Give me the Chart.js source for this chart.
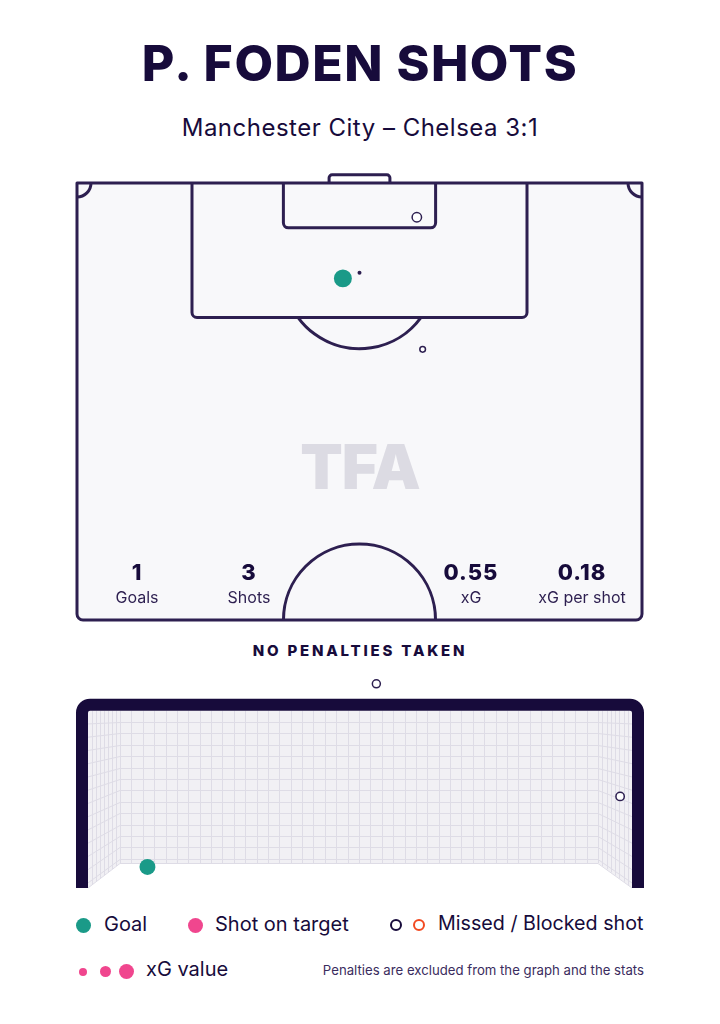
<!DOCTYPE html>
<html>
<head>
<meta charset="utf-8">
<script src="https://cdn.jsdelivr.net/npm/chart.js@4.4.1/dist/chart.umd.min.js"></script>
<style>
  html, body { margin: 0; padding: 0; background: #ffffff; }
  body { width: 720px; height: 1024px; position: relative; overflow: hidden; font-family: Inter, "Noto Sans", sans-serif; color: #170b3b; }
  canvas { position: absolute; }
  .lbl { position: absolute; white-space: nowrap; line-height: 1; }
  .dot { position: absolute; border-radius: 50%; box-sizing: border-box; }
</style>
</head>
<body>
<canvas id="pitch" width="600" height="480" style="left:60px;top:160px"></canvas>
<canvas id="goal" width="600" height="250" style="left:60px;top:660px"></canvas>
<script>
// --- data ---
const playerName = "P. FODEN";
const matchLabel = "Manchester City – Chelsea 3:1";

const shotResult = ["Goal", "Missed", "Missed"];
const shotXG = [0.40, 0.11, 0.04];
// position on the pitch, metres (x from left touchline, y from goal line)
const pitchX = [32.0, 40.9, 41.6];
const pitchY = [11.7, 4.2, 20.4];
// position in the goal view, metres (x from left post, y above ground)
const goalX = [0.80, 7.16, 3.88];
const goalY = [0.29, 1.26, 2.81];
const statLabels = ["Goals", "Shots", "xG", "xG per shot"];

// --- styles ---
const INK = "#170b3b", LINE = "#2d1f50", GREEN = "#1a9a88", PINK = "#f0468e", ORANGE = "#f24a22";
const PITCH_BG = "#f8f8fa", NET_BG = "#f1f0f4", NET_LINE = "#dedce6", WATERMARK = "#dcdbe3";

function label(text, x, base, size, weight, align, extra) {
  const d = document.createElement("div");
  d.className = "lbl";
  d.textContent = text;
  d.style.fontSize = size + "px";
  d.style.fontWeight = weight;
  d.style.top = (base - 0.863 * size) + "px";
  if (align === "center") {
    d.style.left = (x - 300) + "px"; d.style.width = "600px"; d.style.textAlign = "center";
  } else {
    d.style.left = x + "px";
  }
  if (extra) Object.assign(d.style, extra);
  document.body.appendChild(d);
}

function dot(cx, cy, r, fill, border) {
  const d = document.createElement("div");
  d.className = "dot";
  d.style.left = (cx - r) + "px"; d.style.top = (cy - r) + "px";
  d.style.width = d.style.height = (2 * r) + "px";
  d.style.background = fill;
  if (border) d.style.border = "2px solid " + border;
  document.body.appendChild(d);
}

// header
label(playerName + " SHOTS", 360, 81, 50, 800, "center", { letterSpacing: "1.5px" });
label(matchLabel, 360, 137, 24, 400, "center", { letterSpacing: "0.5px" });

// pitch drawing
const pitchPlugin = {
  id: "pitchLines",
  beforeDatasetsDraw(chart) {
    const { ctx, chartArea: a, scales: { x, y } } = chart;
    const px = v => x.getPixelForValue(v), py = v => y.getPixelForValue(v);
    const mx = px(1) - px(0);
    ctx.save();
    ctx.lineWidth = 3;
    ctx.strokeStyle = LINE;
    ctx.lineJoin = "round";

    ctx.beginPath();
    ctx.moveTo(a.left, a.top);
    ctx.lineTo(a.right, a.top);
    ctx.arcTo(a.right, a.bottom, a.left, a.bottom, 6);
    ctx.arcTo(a.left, a.bottom, a.left, a.top, 6);
    ctx.closePath();
    ctx.fillStyle = PITCH_BG;
    ctx.fill();
    ctx.stroke();

    const box = (w, d, r) => {
      const l = px(34 - w / 2), rr = px(34 + w / 2), b = py(d), t = py(0);
      ctx.beginPath();
      ctx.moveTo(l, t);
      ctx.arcTo(l, b, rr, b, r);
      ctx.arcTo(rr, b, rr, t, r);
      ctx.lineTo(rr, t);
      ctx.stroke();
    };
    box(40.32, 16.5, 5);
    box(18.32, 5.5, 5);
    box(7.32, -1, 3);

    const r = 9.15 * mx;
    const ang = Math.asin((py(16.5) - py(11)) / r);
    ctx.beginPath();
    ctx.arc(px(34), py(11), r, ang, Math.PI - ang);
    ctx.stroke();

    ctx.beginPath();
    ctx.arc(px(34), a.bottom, r, Math.PI, 2 * Math.PI);
    ctx.stroke();

    ctx.beginPath();
    ctx.arc(a.left, a.top, 14, 0, Math.PI / 2);
    ctx.stroke();
    ctx.beginPath();
    ctx.arc(a.right, a.top, 14, Math.PI / 2, Math.PI);
    ctx.stroke();

    ctx.beginPath();
    ctx.arc(px(34), py(11), 2, 0, 2 * Math.PI);
    ctx.fillStyle = LINE;
    ctx.fill();
    ctx.restore();
  }
};

const isGoal = c => shotResult[c.dataIndex] === "Goal";

new Chart(document.getElementById("pitch"), {
  type: "scatter",
  data: {
    datasets: [{
      data: pitchX.map((v, i) => ({ x: v, y: pitchY[i] })),
      clip: false,
      pointRadius: c => 14.2 * Math.sqrt(shotXG[c.dataIndex]),
      pointBackgroundColor: c => isGoal(c) ? GREEN : "#ffffff",
      pointBorderColor: c => isGoal(c) ? GREEN : LINE,
      pointBorderWidth: c => isGoal(c) ? 0 : 1.5
    }]
  },
  options: {
    responsive: false,
    animation: false,
    events: [],
    layout: { padding: { left: 17, top: 23, right: 18, bottom: 20 } },
    plugins: { legend: { display: false }, tooltip: { enabled: false } },
    scales: {
      x: { type: "linear", min: 0, max: 68, display: false },
      y: { type: "linear", min: 0, max: 53.6, reverse: true, display: false }
    }
  },
  plugins: [pitchPlugin]
});

// watermark + stats inside the pitch
label("TFA", 360, 490, 62, 900, "center", { color: WATERMARK, letterSpacing: "-1px" });

const goals = shotResult.filter(r => r === "Goal").length;
const xgTotal = shotXG.reduce((s, v) => s + v, 0);
const statValues = [String(goals), String(shotXG.length), xgTotal.toFixed(2), (xgTotal / shotXG.length).toFixed(2)];
const statX = [137, 249, 471, 582];
statValues.forEach((v, i) => {
  label(v, statX[i], 579.5, 22, 800, "center", { letterSpacing: "1px" });
  label(statLabels[i], statX[i], 603.3, 16, 400, "center", { color: LINE });
});

label("NO PENALTIES TAKEN", 360, 656, 15, 800, "center", { letterSpacing: "2.8px" });

// goal view drawing (frame is drawn around the 7.32 x 2.44 goal mouth)
const goalPlugin = {
  id: "goalFrame",
  beforeDatasetsDraw(chart) {
    const { ctx, scales: { x, y } } = chart;
    const L = x.getPixelForValue(0), R = x.getPixelForValue(7.32);
    const T = y.getPixelForValue(2.44), B = y.getPixelForValue(0);
    const bl = L + 32, br = R - 34, bb = B - 25;
    ctx.save();

    ctx.beginPath();
    ctx.moveTo(L, T); ctx.lineTo(R, T); ctx.lineTo(R, B);
    ctx.lineTo(br, bb); ctx.lineTo(bl, bb); ctx.lineTo(L, B);
    ctx.closePath();
    ctx.fillStyle = NET_BG;
    ctx.fill();

    ctx.strokeStyle = NET_LINE;
    ctx.lineWidth = 1;
    const cols = 42, cell = (br - bl) / cols;
    ctx.beginPath();
    for (let i = 0; i <= cols; i++) {
      const xx = Math.round(bl + i * cell) + 0.5;
      ctx.moveTo(xx, T); ctx.lineTo(xx, bb);
    }
    const rows = [];
    for (let yy = T + cell; yy <= bb + 0.5; yy += cell) rows.push(yy);
    rows.push(bb);
    rows.forEach(yy => {
      const yr = Math.round(yy) + 0.5;
      ctx.moveTo(bl, yr); ctx.lineTo(br, yr);
      const ys = T + (yy - T) * (B - T) / (bb - T);
      ctx.moveTo(bl, yr); ctx.lineTo(L, ys);
      ctx.moveTo(br, yr); ctx.lineTo(R, ys);
    });
    const side = 8;
    for (let k = 1; k < side; k++) {
      const f = k / side;
      const xl = Math.round(L + (bl - L) * f) + 0.5, xr = Math.round(R - (R - br) * f) + 0.5;
      ctx.moveTo(xl, T); ctx.lineTo(xl, B + (bb - B) * f);
      ctx.moveTo(xr, T); ctx.lineTo(xr, B + (bb - B) * f);
    }
    ctx.stroke();

    ctx.strokeStyle = INK;
    ctx.lineWidth = 12;
    ctx.lineCap = "butt";
    ctx.beginPath();
    ctx.moveTo(L - 6, B);
    ctx.arcTo(L - 6, T - 6, R + 6, T - 6, 8);
    ctx.arcTo(R + 6, T - 6, R + 6, B, 8);
    ctx.lineTo(R + 6, B);
    ctx.stroke();
    ctx.restore();
  }
};

new Chart(document.getElementById("goal"), {
  type: "scatter",
  data: {
    datasets: [{
      data: goalX.map((v, i) => ({ x: v, y: goalY[i] })),
      clip: false,
      pointRadius: c => Math.max(4, 12.6 * Math.sqrt(shotXG[c.dataIndex])),
      pointBackgroundColor: c => isGoal(c) ? GREEN : "#ffffff",
      pointBorderColor: c => isGoal(c) ? GREEN : LINE,
      pointBorderWidth: c => isGoal(c) ? 0 : 1.5
    }]
  },
  options: {
    responsive: false,
    animation: false,
    events: [],
    layout: { padding: { left: 17, top: 10, right: 17, bottom: 22 } },
    plugins: { legend: { display: false }, tooltip: { enabled: false } },
    scales: {
      x: { type: "linear", min: -0.148, max: 7.468, display: false },
      y: { type: "linear", min: 0, max: 3.0, display: false }
    }
  },
  plugins: [goalPlugin]
});

// legend
dot(83, 925, 7.5, GREEN);
label("Goal", 104, 931, 20, 400, "left");
dot(195, 925, 7.5, PINK);
label("Shot on target", 215, 931, 20, 400, "left");
dot(396, 925, 6, "#ffffff", INK);
dot(419, 925, 6, "#ffffff", ORANGE);
label("Missed / Blocked shot", 438, 931, 19.7, 400, "left");
dot(83, 971.5, 4, PINK);
dot(105, 971.5, 5.5, PINK);
dot(126, 971.5, 7.5, PINK);
label("xG value", 146, 976.5, 20, 400, "left");
label("Penalties are excluded from the graph and the stats", 644, 975.7, 13.2, 400, "left", { left: "auto", right: (720 - 644) + "px", color: "#3a2c5e" });
</script>
</body>
</html>
